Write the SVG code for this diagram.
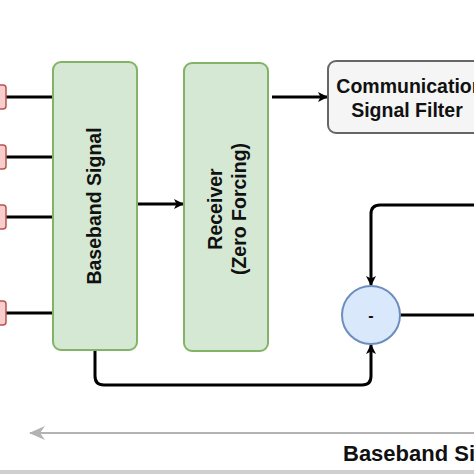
<svg xmlns="http://www.w3.org/2000/svg" width="474" height="474" viewBox="0 0 474 474">
<style>
.green{fill:#d5e8d4;stroke:#82b366;stroke-width:2}
.gray{fill:#f5f5f5;stroke:#666666;stroke-width:2}
.red{fill:#f8cecc;stroke:#b85450;stroke-width:1.5}
.circ{fill:#dae8fc;stroke:#6c8ebf;stroke-width:2}
.t{font-family:"Liberation Sans",Arial,sans-serif;font-weight:bold;font-size:19.5px;fill:#111;text-anchor:middle}
.ln{fill:none;stroke:#000;stroke-width:3}
</style>
<defs>
<marker id="ah" markerWidth="10" markerHeight="10" refX="9" refY="5" orient="auto" markerUnits="userSpaceOnUse">
<path d="M0,0 L10,5 L0,10 L2.5,5 Z" fill="#000"/>
</marker>
<marker id="gh" markerWidth="16" markerHeight="14" refX="15" refY="7" orient="auto" markerUnits="userSpaceOnUse">
<path d="M0,0 L16,7 L0,14 L5,7 Z" fill="#b3b3b3"/>
</marker>
</defs>
<rect width="474" height="474" fill="#ffffff"/>
<g id="connectors">
<path class="ln" d="M6,97 H53"/>
<path class="ln" d="M6,157 H53"/>
<path class="ln" d="M6,217 H53"/>
<path class="ln" d="M6,313 H53"/>
<path class="ln" d="M137,204 H183" marker-end="url(#ah)"/>
<path class="ln" d="M272,97 H327" marker-end="url(#ah)"/>
<path class="ln" d="M476,205 H380 Q371,205 371,214 V285" marker-end="url(#ah)"/>
<path class="ln" d="M400,315 H476"/>
<path class="ln" d="M95,350 V376 Q95,385 104,385 H362 Q371,385 371,376 V345" marker-end="url(#ah)"/>
<path d="M476,433 H30" fill="none" stroke="#b3b3b3" stroke-width="2" marker-end="url(#gh)"/>
</g>
<g id="in1"><rect class="red" x="-10" y="85" width="16" height="24" rx="3"/></g>
<g id="in2"><rect class="red" x="-10" y="145" width="16" height="24" rx="3"/></g>
<g id="in3"><rect class="red" x="-10" y="205" width="16" height="24" rx="3"/></g>
<g id="in4"><rect class="red" x="-10" y="301" width="16" height="24" rx="3"/></g>
<g id="baseband">
<rect class="green" x="53" y="62" width="84" height="288" rx="8"/>
<text class="t" transform="translate(101,206) rotate(-90)">Baseband Signal</text>
</g>
<g id="receiver">
<rect class="green" x="184" y="63" width="84" height="288" rx="8"/>
<text class="t" transform="translate(222,209) rotate(-90)">Receiver</text>
<text class="t" transform="translate(246,209) rotate(-90)">(Zero Forcing)</text>
</g>
<g id="filter">
<rect class="gray" x="328" y="61" width="170" height="72" rx="8"/>
<text class="t" x="410" y="93">Communication</text>
<text class="t" x="407" y="117">Signal Filter</text>
</g>
<g id="subtract">
<circle class="circ" cx="371" cy="315" r="29"/>
<text class="t" x="371" y="321" style="font-size:16px">-</text>
</g>
<g id="label">
<text class="t" x="343" y="461" style="text-anchor:start;font-size:22px">Baseband Si</text>
</g>
<rect x="0" y="470" width="474" height="4" fill="#cfcfcf"/>
</svg>
